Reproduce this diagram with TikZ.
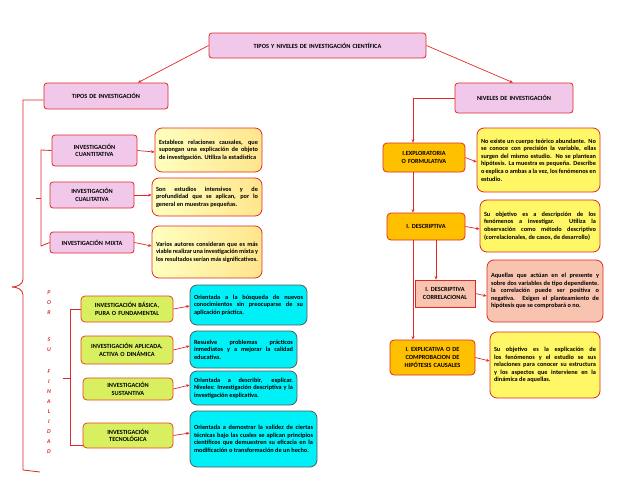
\documentclass[tikz,border=0pt]{standalone}
\usepackage{fontspec}
\setmainfont{Carlito}
\usetikzlibrary{arrows.meta}
\definecolor{lred}{HTML}{E02828}
\definecolor{pinkb}{HTML}{F2C8EA}
\definecolor{orab}{HTML}{FFC000}
\definecolor{limeb}{HTML}{D8F060}
\definecolor{salb}{HTML}{F8C4B0}
\definecolor{cyanb}{HTML}{00F0F8}
\hyphenpenalty=10000 \exhyphenpenalty=10000 \tolerance=9999 \emergencystretch=5pt
\tikzset{
 base/.style={draw=lred,line width=0.8pt,font=\fontsize{6.3}{7.6}\selectfont\bfseries,inner xsep=4pt,inner ysep=2pt},
 pinkbox/.style={base,fill=pinkb,rounded corners=3pt,align=center},
 descbox/.style={base,rounded corners=7pt,left color=yellow!25,right color=yellow!55!orange!45,align=justify},
 orabox/.style={base,fill=orab,rounded corners=4pt,align=center},
 limebox/.style={base,fill=limeb,rounded corners=4pt,draw=lred!70!orange,align=center},
 cyanbox/.style={base,fill=cyanb,draw=gray!70!black,rounded corners=7pt,align=justify},
 salbox/.style={base,fill=salb,align=center},
 salround/.style={base,fill=salb,rounded corners=7pt,align=justify},
 yelbox/.style={base,fill=yellow!60,rounded corners=7pt,align=justify},
 arr/.style={draw=lred,line width=0.7pt,-{Stealth[length=3.5pt,width=3pt]}},
 ln/.style={draw=lred,line width=0.8pt},
}
\newcommand\bx[7]{\pgfmathsetmacro\bw{#5-#3}\pgfmathsetmacro\bh{#6-#4}\pgfmathsetmacro\tw{#5-#3-8}%
\node[#2,minimum width=\bw pt,minimum height=\bh pt,text width=\tw pt] (#1) at ({(#3+#5)/2},{(#4+#6)/2}) {#7};}
\begin{document}
\begin{tikzpicture}[x=1pt,y=-1pt]
\useasboundingbox (0,0) rectangle (638,493);
\bx{title}{pinkbox}{209}{33}{426}{58}{TIPOS Y NIVELES DE INVESTIGACIÓN CIENTÍFICA}
\bx{tipos}{pinkbox}{44}{83}{168}{109}{TIPOS DE INVESTIGACIÓN}
\bx{niveles}{pinkbox}{455}{83}{573}{113}{NIVELES DE INVESTIGACIÓN}
\draw[arr] (title.west) -- (tipos.north -| 138,0);
\draw[arr] (title.east) -- (niveles.north -| 513,0);
% tipos
\bx{cuant}{pinkbox}{52}{135}{137}{166}{INVESTIGACIÓN\\CUANTITATIVA}
\bx{cual}{pinkbox}{50}{182}{134}{208}{INVESTIGACIÓN\\CUALITATIVA}
\bx{mixta}{pinkbox}{50}{232}{134}{253}{INVESTIGACIÓN MIXTA}
\bx{d1}{descbox}{155}{128}{262}{172}{Establece relaciones causales, que supongan una explicación de objeto de investigación. Utiliza la estadística}
\bx{d2}{descbox}{152}{178}{262}{216}{Son estudios intensivos y de profundidad que se aplican, por lo general en muestras pequeñas.}
\bx{d3}{descbox}{152}{226}{262}{278}{\raggedright Varios autores consideran que es más viable realizar una investigación mixta y los resultados serían más significativos.}
\draw[arr] (cuant.east) -- (d1.west |- 0,152);
\draw[arr] (cual.east) -- (d2.west |- 0,195);
\draw[arr] (mixta.east) -- (d3.west |- 0,246);
\draw[ln] (cuant.west) -- (41,150) -- (41,246) -- (mixta.west);
\draw[ln] (41,198) -- (36,198);
% finalidad
\bx{b1}{limebox}{81}{296}{173}{322}{INVESTIGACIÓN BÁSICA, PURA O FUNDAMENTAL}
\bx{b2}{limebox}{81}{336}{173}{364}{INVESTIGACIÓN APLICADA, ACTIVA O DINÁMICA}
\bx{b3}{limebox}{83}{378}{173}{400}{INVESTIGACIÓN\\SUSTANTIVA}
\bx{b4}{limebox}{83}{423}{173}{448}{INVESTIGACIÓN\\TECNOLÓGICA}
\bx{c1}{cyanbox}{190}{285}{307}{325}{Orientada a la búsqueda de nuevos conocimientos sin preocuparse de su aplicación práctica.}
\bx{c2}{cyanbox}{190}{331}{297}{368}{Resuelve problemas prácticos inmediatos y a mejorar la calidad educativa.}
\bx{c3}{cyanbox}{190}{371}{297}{405}{Orientada a describir, explicar. Niveles: Investigación descriptiva y la investigación explicativa.}
\bx{c4}{cyanbox}{190}{411}{317}{467}{Orientada a demostrar la validez de ciertas técnicas bajo las cuales se aplican principios científicos que demuestren su eficacia en la modificación o transformación de un hecho.}
\draw[arr] (b1.east) -- (c1.west |- 0,306);
\draw[arr] (b2.east) -- (c2.west |- 0,346);
\draw[arr] (b3.east) -- (c3.west |- 0,385);
\draw[arr] (b4.east) -- (c4.west |- 0,433);
\draw[ln] (b1.west) -- (70,309) -- (70,445) -- (b4.west |- 0,445);
\draw[ln] (70,378) -- (63,378);
\foreach \l/\yy in {P/293,O/303,R/313,S/340,U/350,F/372,I/382,N/392,A/402,L/412,I/422,D/432,A/442,D/452}
  \node[font=\fontsize{5.8}{6}\selectfont\bfseries\itshape,text=lred,inner sep=0pt] at (49,\yy) {\l};
% big bracket
\draw[ln] (tipos.west |- 0,100) -- (23,100) -- (23,279) to[out=-90,in=0] (12,287);
\draw[ln] (12,287) to[out=0,in=90] (23,295) -- (23,470) -- (40,472);
% niveles
\bx{explo}{orabox}{383}{143}{465}{172}{\raggedright I.EXPLORATORIA O FORMULATIVA}
\bx{descr}{orabox}{387}{213}{465}{240}{I. DESCRIPTIVA}
\bx{corr}{salbox}{415}{280}{475}{307}{I. DESCRIPTIVA CORRELACIONAL}
\bx{expli}{orabox}{390}{340}{475}{375}{I. EXPLICATIVA O DE COMPROBACION DE HIPÓTESIS CAUSALES}
\bx{e1}{yelbox}{477}{128}{600}{192}{No existe un cuerpo teórico abundante. No se conoce con precisión la variable, ellas surgen del mismo estudio. No se plantean hipótesis. La muestra es pequeña. Describe o explica o ambas a la vez, los fenómenos en estudio.}
\bx{e2}{yelbox}{480}{200}{600}{252}{Su objetivo es a descripción de los fenómenos a investigar. Utiliza la observación como método descriptivo (correlacionales, de casos, de desarrollo)}
\bx{e3}{salround}{487}{260}{603}{322}{Aquellas que actúan en el presente y sobre dos variables de tipo dependiente. la correlación puede ser positiva o negativa. Exigen el planteamiento de hipótesis que se comprobará o no.}
\bx{e4}{yelbox}{490}{332}{600}{398}{Su objetivo es la explicación de los fenómenos y el estudio se sus relaciones para conocer su estructura y los aspectos que interviene en la dinámica de aquellas.}
\draw[arr] (niveles.west |- 0,98) -- (413,98) -- (explo.north -| 413,0);
\draw[arr] (explo.south -| 413,0) -- (descr.north -| 413,0);
\draw[arr] (descr.south -| 413,0) -- (expli.north -| 413,0);
\draw[arr] (descr.south -| 436,0) -- (corr.north -| 436,0);
\draw[arr] (explo.east) -- (e1.west |- 0,162);
\draw[arr] (descr.east) -- (e2.west |- 0,229);
\draw[arr] (corr.east) -- (e3.west |- 0,296);
\draw[arr] (expli.east) -- (e4.west |- 0,361);
\end{tikzpicture}
\end{document}
